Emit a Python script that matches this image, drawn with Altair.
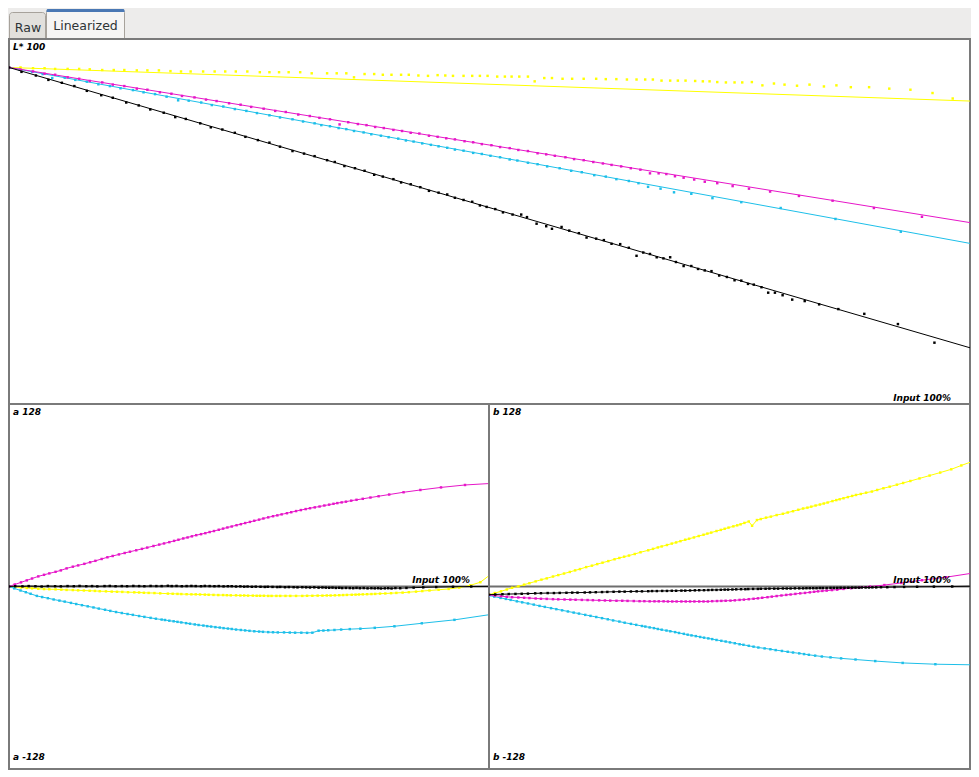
import pandas as pd
import altair as alt

# Tabs above the plots
TABS = ["Raw", "Linearized"]

# Ink channels in drawing order (black last, so on top)
CHANNELS = ["Y", "C", "M", "K"]
COLORS = ["#ffff00", "#1dbfe9", "#e616c8", "#000000"]

# Measured patches per channel: input %, L*, a*, b*
Y_INPUT = [0, 1.2, 2.5, 3.7, 4.8, 6.1, 7.3, 8.4, 9.7, 10.9,
           12.0, 13.3, 14.4, 15.6, 16.8, 17.9, 18.9, 20.2, 21.4, 22.5,
           23.6, 24.8, 26.1, 27.1, 28.1, 29.1, 30.3, 31.5, 33.1, 34.1,
           35.1, 35.9, 37.0, 38.0, 38.9, 39.8, 40.8, 41.6, 42.6, 43.6,
           44.6, 45.4, 46.2, 47.3, 48.2, 49.0, 49.8, 50.8, 51.6, 52.3,
           53.1, 54.0, 54.7, 55.7, 56.5, 57.6, 58.6, 59.8, 61.1, 62.1,
           63.2, 64.3, 65.3, 66.2, 67.0, 67.9, 68.8, 69.6, 70.4, 71.4,
           72.2, 72.9, 73.7, 74.6, 75.5, 76.3, 77.3, 78.4, 79.6, 80.7,
           82.0, 83.3, 84.8, 86.1, 87.6, 89.5, 91.6, 93.8, 96.1, 98.2]
Y_L = [92.2, 92.2, 92.0, 92.0, 91.8, 91.8, 91.8, 91.7, 91.5, 91.5,
       91.5, 91.4, 91.4, 91.4, 91.2, 91.1, 91.1, 91.1, 91.1, 91.1,
       91.1, 91.1, 90.9, 90.9, 90.9, 90.9, 90.9, 90.6, 90.6, 90.6,
       90.6, 89.5, 90.4, 90.4, 90.2, 90.2, 90.2, 90.2, 90.0, 89.9,
       90.1, 90.0, 89.9, 89.9, 89.9, 89.9, 89.9, 89.7, 89.7, 89.7,
       89.7, 89.7, 88.4, 89.3, 89.3, 89.1, 89.1, 89.1, 89.1, 89.0,
       89.0, 88.9, 88.9, 88.9, 88.9, 88.6, 88.6, 88.6, 88.6, 88.5,
       88.4, 88.4, 88.2, 88.1, 88.1, 88.1, 88.2, 87.3, 87.8, 87.5,
       87.2, 87.5, 87.0, 87.3, 86.8, 86.8, 86.4, 86.1, 85.2, 83.7]
Y_A = [0.0, -0.3, -0.7, -1.0, -1.3, -1.6, -1.8, -1.9, -2.0, -2.2,
       -2.4, -2.5, -2.7, -2.8, -3.0, -3.1, -3.3, -3.4, -3.6, -3.7,
       -3.8, -4.0, -4.1, -4.2, -4.4, -4.5, -4.6, -4.8, -5.0, -5.1,
       -5.2, -5.3, -5.4, -5.5, -5.5, -5.6, -5.7, -5.8, -5.9, -6.0,
       -6.0, -6.1, -6.2, -6.2, -6.3, -6.3, -6.4, -6.4, -6.5, -6.5,
       -6.5, -6.6, -6.6, -6.6, -6.6, -6.6, -6.6, -6.6, -6.6, -6.5,
       -6.5, -6.4, -6.4, -6.3, -6.3, -6.2, -6.1, -6.0, -5.9, -5.8,
       -5.7, -5.6, -5.5, -5.4, -5.3, -5.2, -5.0, -4.9, -4.7, -4.5,
       -4.3, -4.0, -3.6, -3.2, -2.8, -2.3, -1.7, -0.8, 0.8, 3.0]
Y_B = [-5.8, -4.6, -3.4, -2.1, -0.9, 0.1, 1.3, 2.3, 3.6, 4.8,
       5.7, 7.0, 8.0, 9.1, 10.2, 11.3, 12.2, 13.6, 14.6, 15.7,
       16.7, 17.8, 19.1, 20.0, 20.9, 21.7, 22.8, 24.0, 25.4, 26.4,
       27.4, 28.1, 29.1, 30.1, 30.9, 31.8, 32.8, 33.5, 34.4, 35.4,
       36.3, 37.1, 37.8, 38.9, 39.7, 40.5, 41.3, 42.2, 42.9, 43.6,
       44.6, 45.6, 42.6, 46.6, 47.3, 48.3, 49.0, 50.1, 51.0, 51.9,
       52.8, 53.8, 54.7, 55.3, 56.0, 56.8, 57.5, 58.2, 58.9, 59.9,
       60.6, 61.2, 61.9, 62.7, 63.5, 64.2, 64.9, 65.8, 66.6, 67.7,
       68.9, 70.0, 71.4, 72.6, 74.0, 75.8, 77.8, 79.9, 82.2, 84.9]

C_INPUT = [0, 1.1, 2.4, 3.5, 4.5, 5.8, 6.9, 8.1, 9.3, 10.5,
           11.6, 12.9, 14.0, 15.2, 16.4, 17.6, 18.7, 20.0, 21.1, 22.3,
           23.5, 24.7, 25.8, 27.1, 28.2, 29.5, 30.6, 31.8, 32.5, 33.4,
           34.3, 35.1, 35.9, 36.9, 37.7, 38.7, 39.5, 40.5, 41.3, 42.1,
           43.0, 43.9, 44.7, 45.6, 46.4, 47.3, 48.3, 49.2, 50.1, 51.1,
           52.1, 52.9, 54.0, 55.0, 56.0, 57.3, 58.5, 59.6, 60.9, 62.1,
           63.2, 64.5, 65.5, 66.5, 67.8, 69.2, 71.0, 73.2, 76.2, 80.3,
           86.0, 92.8]
C_L = [92.2, 91.6, 91.0, 90.4, 89.3, 89.4, 88.8, 88.3, 87.6, 87.1,
       86.5, 86.0, 85.4, 84.9, 84.2, 83.2, 83.1, 82.6, 81.9, 81.5,
       80.8, 80.3, 79.7, 79.1, 78.5, 78.0, 77.4, 76.9, 76.4, 76.1,
       75.6, 75.3, 74.8, 74.4, 73.9, 73.5, 73.1, 72.7, 72.2, 71.9,
       71.4, 71.0, 70.6, 70.2, 69.7, 69.4, 68.8, 68.5, 68.0, 67.6,
       67.0, 66.7, 66.1, 65.7, 65.1, 64.6, 63.9, 63.5, 62.7, 62.3,
       61.6, 61.1, 60.5, 59.5, 59.0, 58.0, 57.6, 56.4, 55.3, 53.7,
       50.7, 47.2]
C_A = [0.0, -1.3, -2.8, -4.0, -5.1, -6.6, -7.4, -8.2, -9.1, -9.9,
       -10.6, -11.5, -12.3, -13.1, -13.9, -14.7, -15.5, -16.3, -17.1, -17.9,
       -18.6, -19.3, -19.9, -20.7, -21.3, -22.0, -22.6, -23.2, -23.5, -24.0,
       -24.4, -24.8, -25.2, -25.7, -26.1, -26.6, -27.0, -27.4, -27.8, -28.1,
       -28.5, -28.8, -29.2, -29.5, -29.8, -30.2, -30.5, -30.8, -31.1, -31.4,
       -31.6, -31.8, -32.0, -32.1, -32.2, -32.2, -32.3, -32.4, -32.4, -32.5,
       -32.4, -31.0, -30.9, -30.7, -30.5, -30.2, -29.9, -29.6, -29.0, -27.9,
       -25.8, -23.4]
C_B = [-6.3, -7.1, -8.0, -8.7, -9.4, -10.4, -11.1, -11.9, -12.7, -13.6,
       -14.3, -15.2, -15.9, -16.7, -17.5, -18.3, -19.0, -19.9, -20.6, -21.4,
       -22.2, -23.0, -23.8, -24.6, -25.4, -26.2, -26.9, -27.7, -28.1, -28.7,
       -29.2, -29.8, -30.3, -30.9, -31.4, -32.0, -32.6, -33.2, -33.8, -34.3,
       -34.8, -35.4, -35.9, -36.4, -36.9, -37.5, -38.1, -38.6, -39.2, -39.8,
       -40.5, -40.9, -41.6, -42.2, -42.8, -43.4, -44.0, -44.6, -45.2, -45.8,
       -46.3, -46.9, -47.4, -47.9, -48.5, -49.1, -49.7, -50.4, -51.2, -52.3,
       -53.6, -54.5]

M_INPUT = [0, 1.2, 2.5, 3.7, 4.8, 6.1, 7.3, 8.4, 9.7, 10.8,
           12.0, 13.3, 14.4, 15.7, 16.9, 18.0, 19.3, 20.5, 21.6, 22.9,
           24.1, 25.2, 26.5, 27.7, 28.8, 30.1, 31.3, 32.3, 33.4, 34.4,
           35.3, 36.3, 37.2, 38.1, 39.0, 40.0, 40.9, 41.8, 42.7, 43.7,
           44.6, 45.5, 46.4, 47.4, 48.3, 49.2, 50.2, 51.1, 52.1, 53.0,
           54.0, 55.0, 55.9, 56.8, 57.9, 58.8, 59.8, 60.8, 61.8, 62.7,
           63.7, 64.7, 65.7, 66.7, 67.6, 68.4, 69.3, 70.2, 71.3, 72.4,
           73.7, 75.3, 77.0, 79.2, 82.2, 85.7, 90.0, 95.0]
M_L = [92.2, 91.6, 91.1, 90.5, 90.2, 89.5, 89.1, 88.5, 88.1, 87.5,
       87.1, 86.4, 86.1, 85.4, 85.0, 84.4, 84.0, 83.4, 83.0, 82.4,
       82.0, 81.4, 80.9, 80.3, 80.0, 79.3, 78.9, 78.4, 78.0, 76.6,
       77.2, 76.7, 76.4, 75.9, 75.6, 75.1, 74.8, 74.3, 74.1, 73.5,
       73.2, 72.8, 72.5, 72.0, 71.7, 71.2, 70.9, 70.4, 70.1, 69.6,
       69.3, 68.7, 68.4, 68.0, 67.6, 67.1, 66.8, 66.3, 65.9, 65.5,
       65.1, 64.6, 64.2, 63.2, 63.2, 63.0, 62.4, 62.0, 61.5, 60.9,
       60.5, 59.7, 59.0, 58.2, 57.0, 55.7, 53.7, 51.3]
M_A = [0.0, 1.4, 2.9, 4.3, 5.6, 7.1, 8.2, 9.2, 10.3, 11.3,
       12.7, 13.9, 14.8, 15.9, 17.0, 18.0, 19.3, 20.5, 21.4, 22.5,
       23.5, 24.4, 25.4, 26.4, 27.3, 28.4, 29.4, 30.2, 31.1, 32.0,
       32.8, 33.7, 34.4, 35.2, 36.0, 36.7, 37.4, 38.2, 38.9, 39.8,
       40.6, 41.4, 42.1, 43.0, 43.7, 44.5, 45.3, 46.1, 46.9, 47.7,
       48.5, 49.3, 49.9, 50.6, 51.4, 52.1, 52.9, 53.6, 54.3, 54.9,
       55.5, 56.1, 56.8, 57.4, 58.0, 58.5, 59.0, 59.5, 60.2, 60.8,
       61.5, 62.4, 63.3, 64.5, 66.1, 67.7, 69.5, 71.2]
M_B = [-6.0, -6.4, -6.8, -7.2, -7.5, -7.7, -7.9, -8.1, -8.4, -8.6,
       -8.7, -8.9, -9.0, -9.1, -9.2, -9.3, -9.4, -9.5, -9.6, -9.7,
       -9.8, -9.9, -10.0, -10.0, -10.1, -10.2, -10.3, -10.3, -10.4, -10.4,
       -10.4, -10.4, -10.5, -10.5, -10.5, -10.5, -10.5, -10.5, -10.5, -10.5,
       -10.5, -10.5, -10.3, -10.2, -10.1, -10.0, -9.9, -9.7, -9.4, -9.2,
       -8.9, -8.6, -8.3, -7.9, -7.5, -7.1, -6.7, -6.3, -5.9, -5.6,
       -5.2, -4.8, -4.5, -4.1, -3.7, -3.4, -3.1, -2.9, -2.5, -2.2,
       -1.7, -1.2, -0.7, 0.0, 1.0, 2.5, 4.4, 6.5]

K_INPUT = [0, 1.3, 2.8, 4.1, 5.5, 6.8, 8.1, 9.6, 10.8, 12.2,
           13.5, 14.7, 16.1, 17.3, 18.4, 19.9, 21.0, 22.2, 23.5, 24.6,
           25.9, 27.1, 28.2, 29.5, 30.7, 31.8, 33.1, 33.9, 34.9, 36.0,
           37.0, 38.0, 38.9, 40.0, 40.8, 41.8, 42.8, 43.7, 44.7, 45.6,
           46.4, 47.3, 48.2, 49.0, 49.7, 50.6, 51.4, 52.4, 53.3, 53.9,
           54.9, 55.9, 56.5, 57.5, 58.3, 59.3, 60.1, 61.1, 61.9, 62.7,
           63.6, 64.5, 65.3, 66.0, 66.7, 67.4, 68.1, 68.8, 69.4, 70.2,
           71.0, 71.7, 72.4, 73.1, 73.9, 74.7, 75.5, 76.2, 76.9, 77.5,
           78.3, 79.0, 79.7, 80.5, 81.5, 82.8, 84.3, 86.3, 89.0, 92.5,
           96.3]
K_L = [92.2, 91.0, 90.0, 88.8, 88.0, 87.1, 85.8, 84.6, 83.9, 82.6,
       81.8, 80.7, 79.8, 78.6, 78.1, 76.9, 75.8, 75.2, 74.3, 73.2,
       72.3, 71.6, 70.5, 69.3, 68.6, 67.9, 66.8, 66.3, 65.2, 64.6,
       63.9, 62.8, 62.3, 61.6, 60.7, 60.2, 59.4, 58.4, 57.9, 57.4,
       56.5, 55.9, 55.4, 54.4, 54.0, 53.4, 52.5, 51.9, 51.9, 51.2,
       49.4, 48.7, 48.0, 48.5, 47.5, 46.8, 45.6, 45.3, 44.9, 43.9,
       43.8, 42.8, 40.6, 41.5, 41.1, 40.2, 39.9, 40.2, 38.9, 37.8,
       37.8, 37.0, 36.6, 36.4, 35.2, 34.8, 33.9, 33.8, 32.9, 32.7,
       32.0, 30.5, 30.5, 29.8, 28.6, 28.2, 27.3, 26.0, 24.7, 21.9,
       16.8]
K_A = [0.0, 0.2, 0.1, 0.3, 0.2, 0.0, 0.3, 0.2, 0.1, 0.3,
       0.2, 0.4, 0.2, 0.3, 0.1, 0.3, 0.4, 0.2, 0.3, 0.2,
       0.4, 0.3, 0.2, 0.4, 0.3, 0.3, 0.5, 0.3, 0.4, 0.2,
       0.3, 0.4, 0.3, 0.2, 0.4, 0.3, 0.2, 0.3, 0.1, 0.2,
       0.2, 0.0, 0.1, -0.1, 0.0, -0.2, -0.1, -0.2, -0.3, -0.2,
       -0.3, -0.4, -0.3, -0.5, -0.4, -0.5, -0.6, -0.5, -0.6, -0.7,
       -0.6, -0.8, -0.7, -0.8, -0.9, -0.8, -1.0, -0.9, -1.1, -1.0,
       -1.1, -1.2, -1.0, -1.2, -1.1, -1.3, -1.2, -1.3, -1.2, -1.4,
       -1.3, -1.2, -1.4, -1.1, -1.2, -1.0, -0.8, -0.6, -0.4, -0.2,
       0.0]
K_B = [-5.7, -5.6, -5.4, -5.3, -5.2, -5.1, -5.0, -4.8, -4.7, -4.6,
       -4.6, -4.5, -4.4, -4.3, -4.3, -4.2, -4.1, -4.0, -3.9, -3.8,
       -3.7, -3.6, -3.6, -3.5, -3.4, -3.4, -3.3, -3.2, -3.2, -3.1,
       -3.1, -3.0, -3.0, -2.9, -2.9, -2.8, -2.7, -2.6, -2.6, -2.5,
       -2.4, -2.4, -2.3, -2.2, -2.2, -2.1, -2.0, -1.9, -1.9, -1.8,
       -1.7, -1.7, -1.6, -1.6, -1.5, -1.5, -1.5, -1.4, -1.4, -1.4,
       -1.3, -1.3, -1.3, -1.2, -1.2, -1.2, -1.2, -1.1, -1.1, -1.1,
       -1.0, -1.0, -1.0, -0.9, -0.9, -0.9, -0.8, -0.8, -0.8, -0.7,
       -0.7, -0.7, -0.6, -0.6, -0.5, -0.5, -0.4, -0.3, -0.2, -0.1,
       0.0]

# Curve values at 0% (paper) and 100% input
L_START = 92.2
L_END = {"Y": 83.0, "C": 44.0, "M": 49.7, "K": 15.4}
A_END = {"Y": 7.6, "C": -19.8, "M": 72.2, "K": 0.1}
B_END = {"Y": 87.1, "C": -54.9, "M": 9.1, "K": 0.2}

measured = {
    "Y": (Y_INPUT, Y_L, Y_A, Y_B),
    "C": (C_INPUT, C_L, C_A, C_B),
    "M": (M_INPUT, M_L, M_A, M_B),
    "K": (K_INPUT, K_L, K_A, K_B),
}
frames = []
for ch, (xs, ls, aa, bb) in measured.items():
    frames.append(pd.DataFrame({"channel": ch, "input": xs, "L": ls, "a": aa, "b": bb}))
dots = pd.concat(frames, ignore_index=True)

ends = pd.DataFrame({
    "channel": CHANNELS,
    "input": 100.0,
    "L": [L_END[c] for c in CHANNELS],
    "a": [A_END[c] for c in CHANNELS],
    "b": [B_END[c] for c in CHANNELS],
})
curves = pd.concat([dots, ends], ignore_index=True)
targets = pd.DataFrame({
    "channel": CHANNELS * 2,
    "input": [0.0] * 4 + [100.0] * 4,
    "L": [L_START] * 4 + [L_END[c] for c in CHANNELS],
})

X_SCALE = alt.Scale(domain=[0, 100], nice=False, zero=False)
COLOR = alt.Color("channel:N", scale=alt.Scale(domain=CHANNELS, range=COLORS), legend=None)
LABEL_FONT = dict(font="DejaVu Sans", fontSize=9, fontWeight="bold", fontStyle="italic", color="black")


def panel(field, line_data, y_domain, width, height, labels):
    ys = alt.Scale(domain=y_domain, nice=False, zero=False)
    x = alt.X("input:Q", scale=X_SCALE, axis=None)
    y = alt.Y(f"{field}:Q", scale=ys, axis=None)
    layers = []
    if y_domain[0] < 0:
        layers.append(
            alt.Chart(pd.DataFrame({"zero": [0]}))
            .mark_rule(color="#6e6e6e", strokeWidth=2, clip=True)
            .encode(y=alt.Y("zero:Q", scale=ys, axis=None))
        )
    for ch in CHANNELS:
        layers.append(
            alt.Chart(line_data[line_data.channel == ch])
            .mark_line(strokeWidth=1, strokeJoin="round", clip=True)
            .encode(x=x, y=y, color=COLOR)
        )
        layers.append(
            alt.Chart(dots[dots.channel == ch])
            .mark_square(size=6, opacity=1, clip=True)
            .encode(x=x, y=y, color=COLOR)
        )
    for text, lx, ly, align, baseline, dx, dy in labels:
        layers.append(
            alt.Chart(pd.DataFrame({"x": [lx], "y": [ly], "t": [text]}))
            .mark_text(align=align, baseline=baseline, dx=dx, dy=dy, clip=True, **LABEL_FONT)
            .encode(x=alt.X("x:Q", scale=X_SCALE, axis=None),
                    y=alt.Y("y:Q", scale=ys, axis=None),
                    text="t:N")
        )
    return alt.layer(*layers).properties(width=width, height=height)


top = panel("L", targets, [0, 100], 961, 365, [
    ("L* 100", 0, 100, "left", "top", 4, 4),
    ("Input 100%", 100, 0, "right", "bottom", -19, -1),
])
a_panel = panel("a", curves, [-128, 128], 480, 365, [
    ("a 128", 0, 128, "left", "top", 4, 4),
    ("a -128", 0, -128, "left", "bottom", 4, -7),
    ("Input 100%", 100, 0, "right", "bottom", -19, -2),
])
b_panel = panel("b", curves, [-128, 128], 481, 365, [
    ("b 128", 0, 128, "left", "top", 4, 4),
    ("b -128", 0, -128, "left", "bottom", 4, -7),
    ("Input 100%", 100, 0, "right", "bottom", -19, -2),
])

# Tab strip
tab_df = pd.DataFrame({"tab": TABS})
raw_df = tab_df[tab_df.tab == "Raw"]
lin_df = tab_df[tab_df.tab == "Linearized"]
tab_text = dict(font="DejaVu Sans", fontSize=12.5, color="#2e3436", align="center", baseline="alphabetic")
tabs = alt.layer(
    alt.Chart(raw_df).mark_rect(fill="#e2e0dc", stroke="#a7a29b", strokeWidth=1,
                                cornerRadiusTopLeft=3, cornerRadiusTopRight=3)
    .encode(x=alt.value(0.5), x2=alt.value(36.5), y=alt.value(3.5), y2=alt.value(31)),
    alt.Chart(lin_df).mark_rect(fill="#f6f5f4", stroke="#a7a29b", strokeWidth=1,
                                cornerRadiusTopLeft=3, cornerRadiusTopRight=3)
    .encode(x=alt.value(37.5), x2=alt.value(115.5), y=alt.value(0.5), y2=alt.value(31)),
    alt.Chart(lin_df).mark_rect(fill="#4a78b4", cornerRadiusTopLeft=3, cornerRadiusTopRight=3)
    .encode(x=alt.value(37.5), x2=alt.value(115.5), y=alt.value(0), y2=alt.value(3)),
    alt.Chart(raw_df).mark_text(**tab_text)
    .encode(x=alt.value(19), y=alt.value(23), text="tab:N"),
    alt.Chart(lin_df).mark_text(**tab_text)
    .encode(x=alt.value(76.5), y=alt.value(21), text="tab:N"),
).properties(width=961, height=30, view=alt.ViewBackground(fill="transparent", stroke="transparent"))

chart = alt.vconcat(
    tabs,
    top,
    alt.hconcat(a_panel, b_panel, spacing=0, bounds="flush"),
    spacing=0,
    bounds="flush",
).properties(
    padding=0,
    background="#edeceb",
).configure_view(
    stroke="#7a7a7a",
    strokeWidth=2,
    fill="white",
)

chart.save("out.html", embed_options={"renderer": "svg", "actions": False})
